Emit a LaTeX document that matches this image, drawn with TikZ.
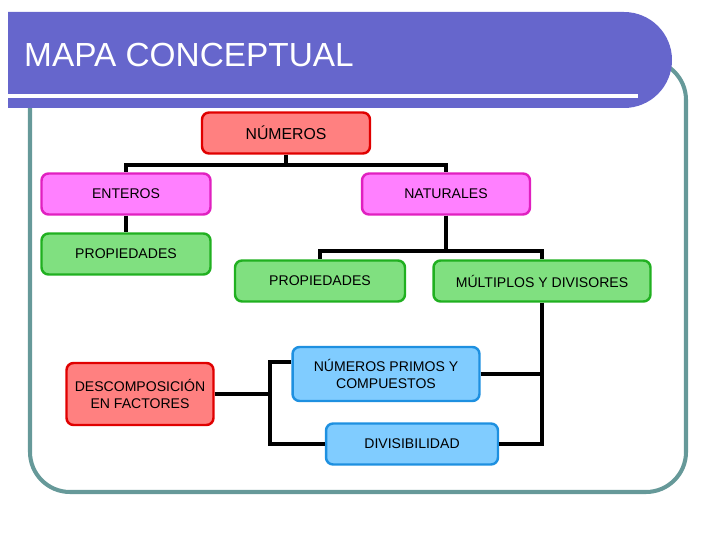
\documentclass[tikz,border=0pt]{standalone}
\usepackage{fontspec}
\setmainfont{Liberation Sans}
\definecolor{bannerblue}{RGB}{102,102,204}
\definecolor{framegray}{RGB}{102,153,153}
\definecolor{redfill}{RGB}{255,128,128}
\definecolor{reddraw}{RGB}{224,0,0}
\definecolor{pinkfill}{RGB}{255,128,255}
\definecolor{pinkdraw}{RGB}{224,32,192}
\definecolor{greenfill}{RGB}{128,224,128}
\definecolor{greendraw}{RGB}{32,176,32}
\definecolor{bluefill}{RGB}{128,204,255}
\definecolor{bluedraw}{RGB}{30,144,224}
\tikzset{
  box/.style={rounded corners=4pt, line width=1.4pt, align=center,
    inner sep=1pt, font=\fontsize{8}{9.5}\selectfont},
  rojo/.style={box, fill=redfill, draw=reddraw},
  rosa/.style={box, fill=pinkfill, draw=pinkdraw},
  verde/.style={box, fill=greenfill, draw=greendraw},
  azul/.style={box, fill=bluefill, draw=bluedraw},
  link/.style={line width=2.1pt, black},
}
\begin{document}
\begin{tikzpicture}[x=0.02cm,y=-0.02cm]
\useasboundingbox (0,0) rectangle (720,540);

%% frame and banner
\draw[framegray, line width=2.3pt, rounded corners=0.8cm] (30,60) rectangle (686,492);
\fill[bannerblue] (8,12) [rounded corners=0.96cm] -- (672,12) -- (672,108) [sharp corners] -- (8,108) -- cycle;
\draw[white, line width=2pt] (8,96) -- (638,96);
\node[white, anchor=west, font=\fontsize{19}{22}\selectfont] (titulo) at (18,55) {MAPA CONCEPTUAL};

%% boxes
\node[rojo, minimum width=3.36cm, minimum height=0.82cm, font=\fontsize{9}{11}\selectfont] (numeros) at (286,133) {NÚMEROS};
\node[rosa, minimum width=3.38cm, minimum height=0.82cm] (enteros) at (126,194) {ENTEROS};
\node[rosa, minimum width=3.36cm, minimum height=0.82cm] (naturales) at (446,194) {NATURALES};
\node[verde, minimum width=3.38cm, minimum height=0.82cm] (prop1) at (126,254) {PROPIEDADES};
\node[verde, minimum width=3.40cm, minimum height=0.82cm] (prop2) at (320,281) {PROPIEDADES};
\node[verde, minimum width=4.34cm, minimum height=0.82cm] (multiplos) at (542,281) {MÚLTIPLOS Y DIVISORES};
\node[rojo, minimum width=2.94cm, minimum height=1.24cm] (descomp) at (140,394) {DESCOMPOSICIÓN\\EN FACTORES};
\node[azul, minimum width=3.74cm, minimum height=1.08cm] (primos) at (386,374) {NÚMEROS PRIMOS Y\\COMPUESTOS};
\node[azul, minimum width=3.44cm, minimum height=0.82cm] (divis) at (412,444) {DIVISIBILIDAD};

%% connectors
\draw[link] (numeros.south) |- (126,165) -- (enteros.north);
\draw[link] (numeros.south) |- (446,165) -- (naturales.north);
\draw[link] (enteros) -- (prop1);
\draw[link] (naturales.south) |- (320,251) -- (prop2.north);
\draw[link] (naturales.south) |- (542,251) -- (multiplos.north);
\draw[link] (multiplos.south) |- (divis.east);
\draw[link] (primos.east) -- (542,374);
\draw[link] (descomp.east) -- (270,394);
\draw[link] (primos.west |- 0,362) -| (270,444) -- (divis.west);
\end{tikzpicture}
\end{document}
